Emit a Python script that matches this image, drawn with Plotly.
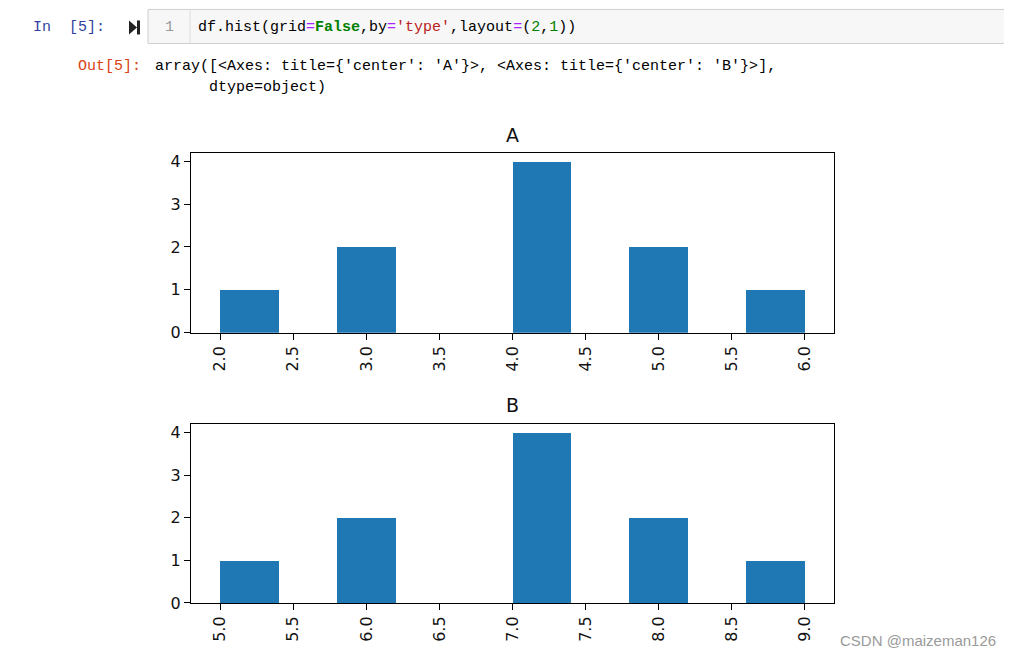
import numpy as np
import plotly.graph_objects as go

# page is shown with an 8px body margin, so the figure is drawn 16px smaller
OFF = 8
W, H = 996, 643
# measured vertical compression of the photographed page
YS, YB = 0.982, 1.7

# ---- data ----
groups = ["A", "B"]
values_A = [2, 3, 3, 4, 4, 4, 4, 5, 5, 6]
values_B = [5, 6, 6, 7, 7, 7, 7, 8, 8, 9]
n_bins = 10
xticks_A = [2.0, 2.5, 3.0, 3.5, 4.0, 4.5, 5.0, 5.5, 6.0]
xticks_B = [5.0, 5.5, 6.0, 6.5, 7.0, 7.5, 8.0, 8.5, 9.0]
yticks = [0, 1, 2, 3, 4]

code_line = "df.hist(grid=False,by='type',layout=(2,1))"
out_line1 = "array([<Axes: title={'center': 'A'}>, <Axes: title={'center': 'B'}>],"
out_line2 = "dtype=object)"


def px(x):
    return (x - OFF) / W


def py(y):
    y_css = (y - YB) / YS
    return 1 - (y_css - OFF) / H


fig = go.Figure()

domains = [
    ([px(191), px(834)], [py(333), py(153)], 135),
    ([px(191), px(834)], [py(603), py(424)], 405),
]
data_sets = [(values_A, xticks_A), (values_B, xticks_B)]

annotations = []
for i, (name, (vals, ticks), (dx, dy, ty)) in enumerate(zip(groups, data_sets, domains)):
    counts, edges = np.histogram(vals, bins=n_bins)
    width = edges[1] - edges[0]
    xa = "x" if i == 0 else "x2"
    ya = "y" if i == 0 else "y2"
    fig.add_trace(go.Bar(
        x=edges[:-1], y=counts, width=width, offset=0,
        marker=dict(color="#1f77b4", line=dict(width=0)),
        xaxis=xa, yaxis=ya, showlegend=False, hoverinfo="x+y",
    ))
    lo, hi = edges[0], edges[-1]
    pad = (hi - lo) * 0.05
    ymax = counts.max() * 1.05
    axis_common = dict(
        showline=True, linecolor="black", linewidth=1, mirror=True,
        ticks="outside", ticklen=6, tickwidth=1, tickcolor="black",
        showgrid=False, zeroline=False,
        tickfont=dict(family="DejaVu Sans", size=16, color="#111111"),
    )
    key = "" if i == 0 else "2"
    fig.update_layout(**{
        "xaxis" + key: dict(domain=dx, range=[lo - pad, hi + pad],
                            tickvals=ticks, ticktext=[f"{t:.1f}" for t in ticks],
                            tickangle=-90, anchor=ya, **axis_common),
        "yaxis" + key: dict(domain=dy, range=[0, ymax], tickvals=yticks,
                            anchor=xa, **axis_common),
    })
    annotations.append(dict(
        text=name, x=px((191 + 834) / 2), y=py(ty), xref="paper", yref="paper",
        showarrow=False, xanchor="center", yanchor="middle",
        font=dict(family="DejaVu Sans", size=19, color="#111111"),
    ))

mono = "Liberation Mono"
# Notebook header texts
annotations += [
    dict(text="In  [5]:", x=px(31), y=py(28), xanchor="left", yanchor="middle",
         font=dict(family=mono, size=15, color="#303F9F")),
    dict(text="1", x=px(176), y=py(28), xanchor="right", yanchor="middle",
         font=dict(family=mono, size=15, color="#999999")),
    dict(text=("df.hist(grid<span style='color:#AA22FF'>=</span>"
               "<b><span style='color:#008000'>False</span></b>,by"
               "<span style='color:#AA22FF'>=</span>"
               "<span style='color:#BA2121'>'type'</span>,layout"
               "<span style='color:#AA22FF'>=</span>(<span style='color:#008000'>2</span>,"
               "<span style='color:#008000'>1</span>))"),
         x=px(196), y=py(28), xanchor="left", yanchor="middle",
         font=dict(family=mono, size=15, color="#000000")),
    dict(text="Out[5]:", x=px(76), y=py(67), xanchor="left", yanchor="middle",
         font=dict(family=mono, size=15, color="#D84315")),
    dict(text=out_line1, x=px(153), y=py(67), xanchor="left", yanchor="middle",
         font=dict(family=mono, size=15, color="#000000")),
    dict(text=out_line2, x=px(207), y=py(88), xanchor="left", yanchor="middle",
         font=dict(family=mono, size=15, color="#000000")),
    dict(text="CSDN @maizeman126", x=px(998), y=py(640), xanchor="right", yanchor="middle",
         font=dict(family="Liberation Sans", size=15, color="#9a9a9a")),
]
for a in annotations:
    a.setdefault("xref", "paper")
    a.setdefault("yref", "paper")
    a.setdefault("showarrow", False)

bx0, bx1, by0, by1 = px(148), 1.0, py(44), py(10)
shapes = [
    # code cell box (open on the right, it runs off the page)
    dict(type="rect", xref="paper", yref="paper", x0=bx0, x1=bx1, y0=by0, y1=by1,
         fillcolor="#f7f7f7", line=dict(width=0), layer="below"),
    dict(type="path", xref="paper", yref="paper",
         path=f"M {bx1} {by1} L {bx0} {by1} L {bx0} {by0} L {bx1} {by0}",
         line=dict(color="#cfcfcf", width=1)),
    dict(type="line", xref="paper", yref="paper", x0=px(190), x1=px(190), y0=by0, y1=by1,
         line=dict(color="#dddddd", width=1)),
    # run icon
    dict(type="path", xref="paper", yref="paper",
         path=f"M {px(129)} {py(21)} L {px(129)} {py(35)} L {px(137)} {py(28)} Z",
         fillcolor="#222222", line=dict(width=0)),
    dict(type="rect", xref="paper", yref="paper", x0=px(137), x1=px(140), y0=py(35), y1=py(21),
         fillcolor="#222222", line=dict(width=0)),
]

fig.update_layout(
    width=W, height=H, margin=dict(l=0, r=0, t=0, b=0),
    paper_bgcolor="white", plot_bgcolor="white",
    annotations=annotations, shapes=shapes, bargap=0,
)

fig.write_html("out.html")
